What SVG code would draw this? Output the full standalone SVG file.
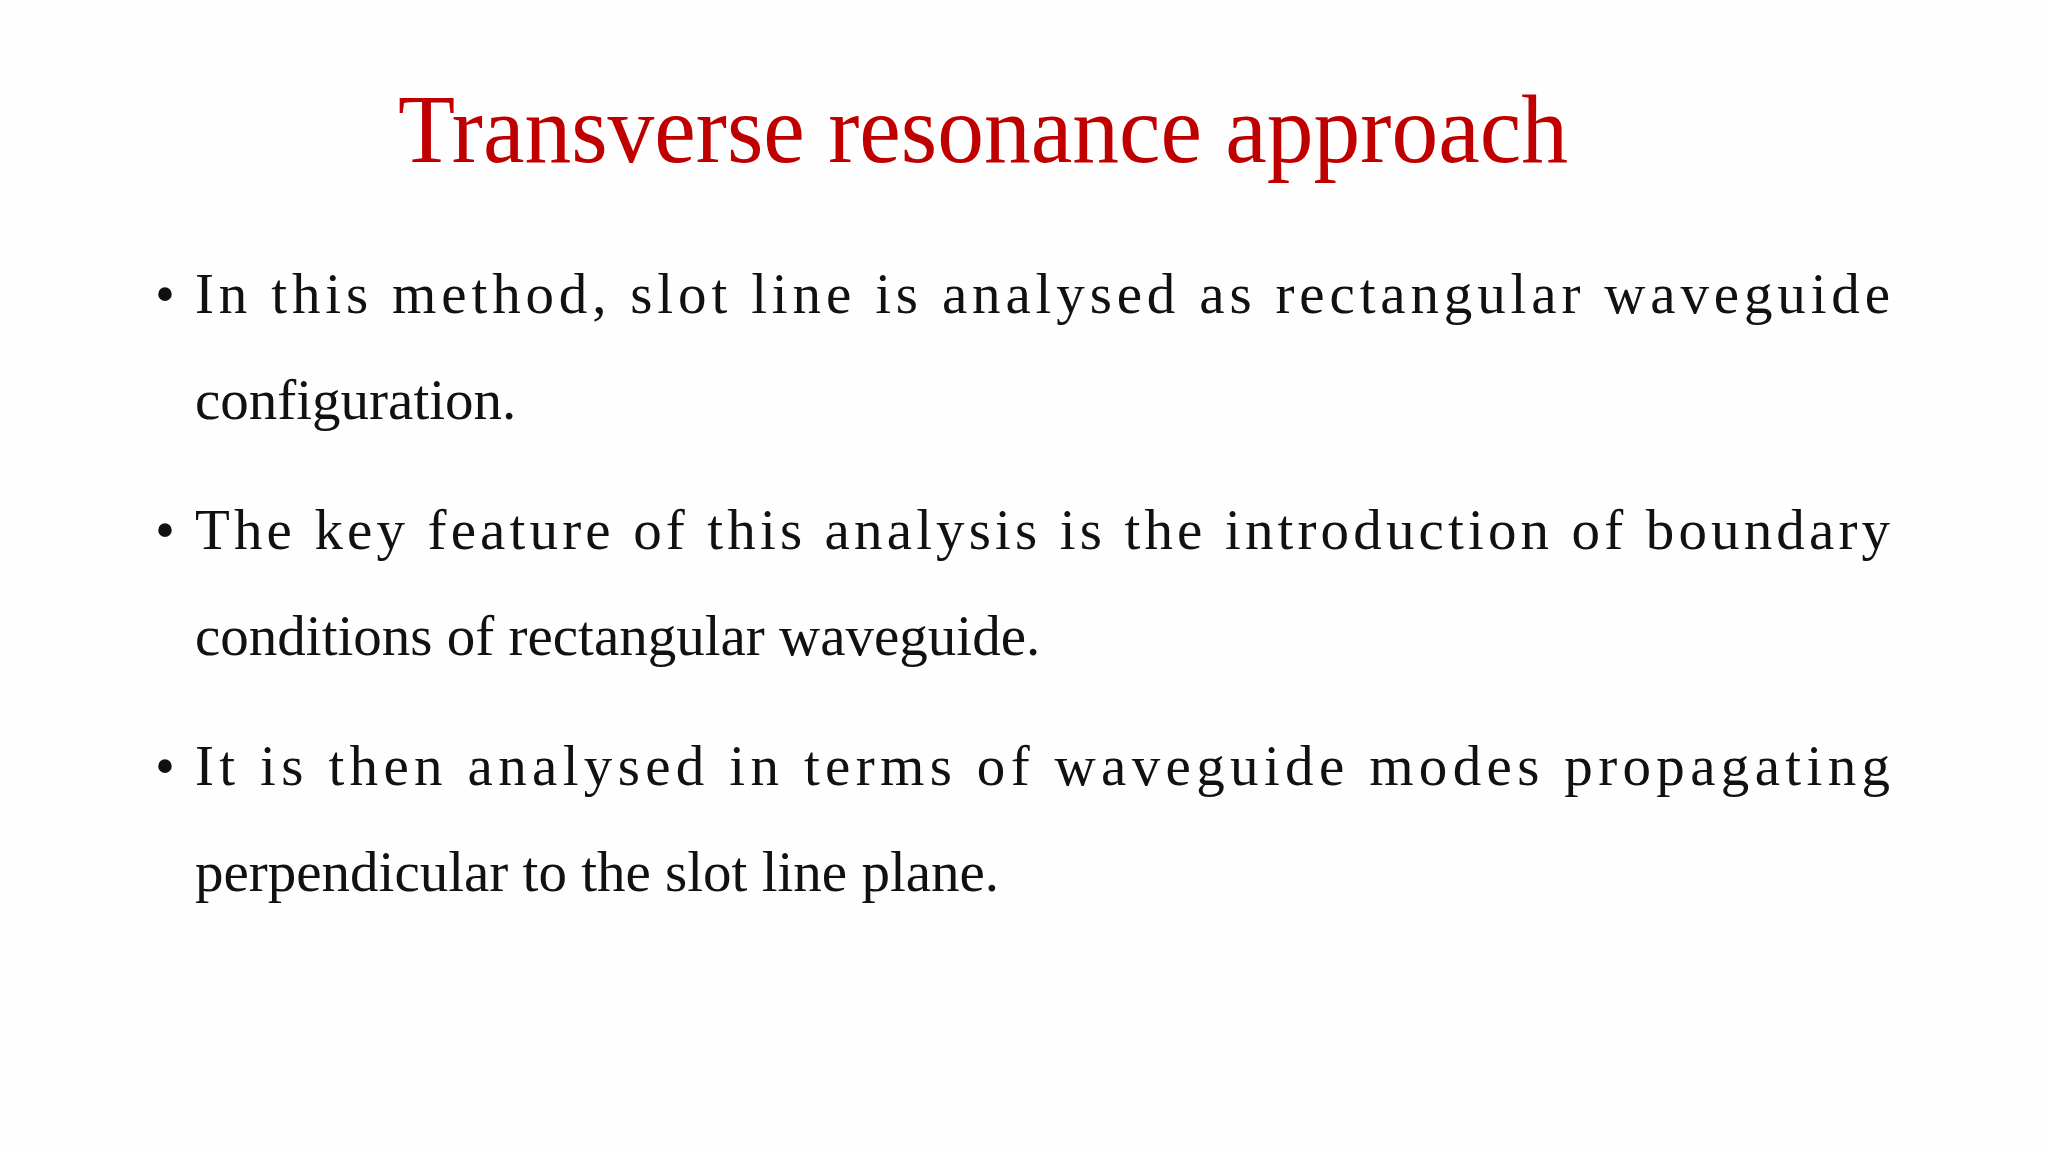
<svg xmlns="http://www.w3.org/2000/svg" width="2048" height="1152" viewBox="0 0 2048 1152">
<style>
.t{font-family:"Liberation Serif",serif;fill:#c00000;font-size:98px}
.b{font-family:"Liberation Serif",serif;fill:#111;font-size:57px}
</style>
<rect width="2048" height="1152" fill="#fefefe"/>
<g id="title"><text class="t" x="398" y="162" textLength="1170" lengthAdjust="spacingAndGlyphs">Transverse resonance approach</text></g>
<g id="bullet1">
<text class="b" x="155" y="313">•</text>
<text class="b" x="195" y="313" textLength="1695" lengthAdjust="spacing">In this method, slot line is analysed as rectangular waveguide</text>
<text class="b" x="195" y="419">configuration.</text>
</g>
<g id="bullet2">
<text class="b" x="155" y="549">•</text>
<text class="b" x="195" y="549" textLength="1695" lengthAdjust="spacing">The key feature of this analysis is the introduction of boundary</text>
<text class="b" x="195" y="655">conditions of rectangular waveguide.</text>
</g>
<g id="bullet3">
<text class="b" x="155" y="785">•</text>
<text class="b" x="195" y="785" textLength="1695" lengthAdjust="spacing">It is then analysed in terms of waveguide modes propagating</text>
<text class="b" x="195" y="891">perpendicular to the slot line plane.</text>
</g>
</svg>
